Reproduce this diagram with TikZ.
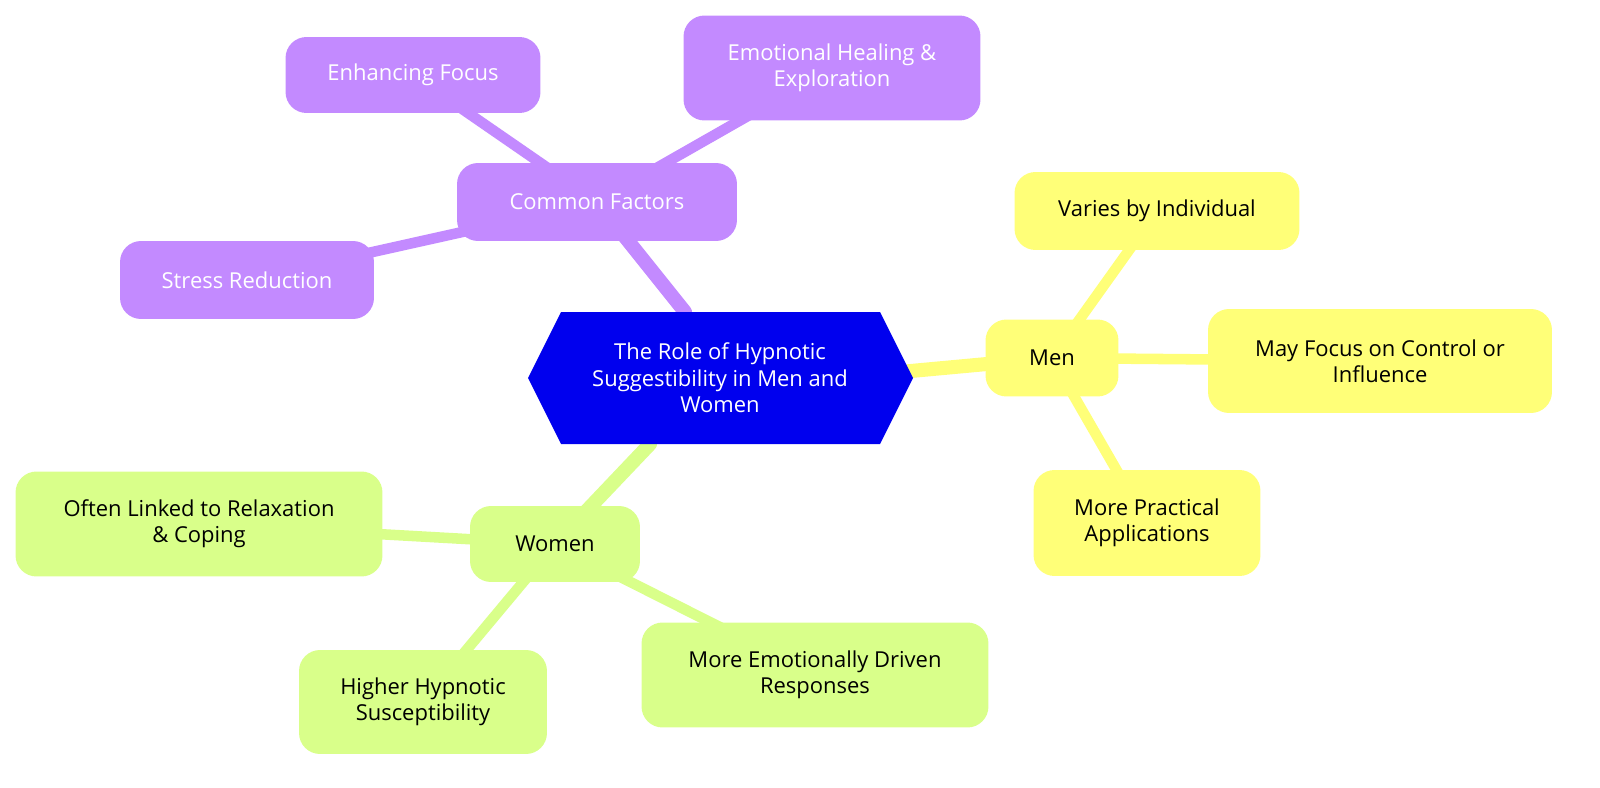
\documentclass[tikz,border=0pt]{standalone}
\usepackage{fontspec}
\setmainfont{Open Sans}
\usetikzlibrary{positioning}
\definecolor{hub}{HTML}{0000EE}
\definecolor{cfac}{HTML}{C38AFF}
\definecolor{cmen}{HTML}{FFFF78}
\definecolor{cwom}{HTML}{D9FF8A}
\tikzset{
  box/.style={rounded corners=0.42cm, align=center, font=\fontsize{12.5}{15}\selectfont, inner sep=0pt},
  fac/.style={box, fill=cfac, text=white},
  men/.style={box, fill=cmen},
  wom/.style={box, fill=cwom},
  link/.style={line width=#1, line cap=round}
}
\begin{document}
\begin{tikzpicture}[x=0.02cm,y=-0.02cm]
% edges
\draw[link=8pt, cfac] (597,202) -- (685,312);
\draw[link=6pt, cfac] (597,202) -- (413,75);
\draw[link=6pt, cfac] (597,202) -- (832,68);
\draw[link=6pt, cfac] (597,202) -- (247,280);
\draw[link=8pt, cmen] (900,372) -- (1052,358);
\draw[link=6pt, cmen] (1052,358) -- (1157,211);
\draw[link=6pt, cmen] (1052,358) -- (1380,361);
\draw[link=6pt, cmen] (1052,358) -- (1147,523);
\draw[link=8pt, cwom] (650,444) -- (555,544);
\draw[link=6pt, cwom] (555,544) -- (199,524);
\draw[link=6pt, cwom] (555,544) -- (423,702);
\draw[link=6pt, cwom] (555,544) -- (815,675);
% hub
\fill[hub] (528,378) -- (561,312) -- (880,312) -- (913,378) -- (880,444) -- (561,444) -- cycle;
\node[text=white, align=center, font=\fontsize{12.5}{15}\selectfont] (root) at (720,378)
  {The Role of Hypnotic\\Suggestibility in Men and\\Women};
% common factors
\node[fac, minimum width=5.6cm, minimum height=1.56cm] (common) at (597,202) {Common Factors};
\node[fac, minimum width=5.1cm, minimum height=1.52cm] (focus) at (413,75) {Enhancing Focus};
\node[fac, minimum width=5.94cm, minimum height=2.1cm] (heal) at (832,68) {Emotional Healing \&\\Exploration};
\node[fac, minimum width=5.08cm, minimum height=1.56cm] (stress) at (247,280) {Stress Reduction};
% men
\node[men, minimum width=2.66cm, minimum height=1.54cm] (men) at (1052,358) {Men};
\node[men, minimum width=5.7cm, minimum height=1.56cm] (varies) at (1157,211) {Varies by Individual};
\node[men, minimum width=6.88cm, minimum height=2.08cm] (control) at (1380,361) {May Focus on Control or\\Influence};
\node[men, minimum width=4.54cm, minimum height=2.12cm] (practical) at (1147,523) {More Practical\\Applications};
% women
\node[wom, minimum width=3.4cm, minimum height=1.52cm] (women) at (555,544) {Women};
\node[wom, minimum width=7.34cm, minimum height=2.1cm] (relax) at (199,524) {Often Linked to Relaxation\\\& Coping};
\node[wom, minimum width=4.96cm, minimum height=2.08cm] (higher) at (423,702) {Higher Hypnotic\\Susceptibility};
\node[wom, minimum width=6.94cm, minimum height=2.1cm] (emot) at (815,675) {More Emotionally Driven\\Responses};
\pgfresetboundingbox
\useasboundingbox (0,0) rectangle (1600,788);
\end{tikzpicture}
\end{document}
